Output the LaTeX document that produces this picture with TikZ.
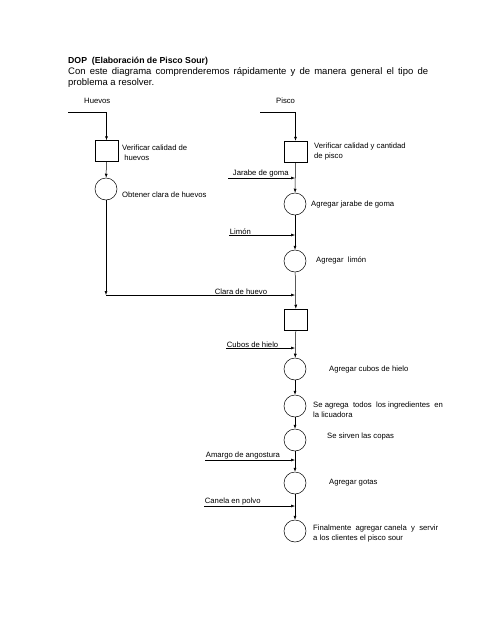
\documentclass[tikz,border=0pt]{standalone}
\usepackage{fontspec}
\setmainfont{Liberation Sans}
\usetikzlibrary{arrows.meta}
\begin{document}
\begin{tikzpicture}[x=1pt,y=-1pt,
  arr/.style={-{Latex[length=4pt,width=3pt]}, line width=0.5pt},
  ln/.style={line width=0.5pt},
  opbox/.style={draw, line width=0.5pt, rectangle, minimum width=23pt, minimum height=21pt, inner sep=0pt},
  opcirc/.style={draw, line width=0.5pt, circle, minimum size=22pt, inner sep=0pt},
  lbl/.style={font=\fontsize{7.7}{10}\selectfont, anchor=west, align=left, inner sep=0pt},
  inlbl/.style={font=\fontsize{7.7}{9}\selectfont, anchor=south west, inner sep=0.7pt}]
\useasboundingbox (0,0) rectangle (495,640);
\fill[white] (0,0) rectangle (495,640);
% header
\node[anchor=west, inner sep=0pt, font=\bfseries\fontsize{8.7}{10}\selectfont] (title) at (68,61) {DOP\ \ (Elaboración de Pisco Sour)};
\node[anchor=north west, inner sep=0pt, text width=360pt, align=justify, font=\fontsize{9.5}{11}\selectfont] (intro) at (68,67.5) {\tolerance=9999 \emergencystretch=30pt Con este diagrama comprenderemos rápidamente y de manera general el tipo de \mbox{problema} a resolver.};
\node[lbl] (lh) at (84,101) {Huevos};
\node[lbl] (lp) at (276,101) {Pisco};
% left column
\coordinate (hin) at (68,112);
\node[opbox] (b1) at (106.5,151) {};
\node[opcirc] (c1) at (106,189) {};
\coordinate (cl) at (106,295);
\node[lbl] at (122,153) {Verificar calidad de\\\ huevos};
\node[lbl] at (122,195) {Obtener clara de huevos};
% right column
\coordinate (pin) at (260,112);
\node[opbox] (b2) at (295.5,151.5) {};
\node[opcirc] (c2) at (295,204) {};
\node[opcirc] (c3) at (295,261) {};
\node[opbox] (b3) at (296,319.5) {};
\node[opcirc] (c4) at (295,369) {};
\node[opcirc] (c5) at (295,406) {};
\node[opcirc] (c6) at (295,440) {};
\node[opcirc] (c7) at (295,483) {};
\node[opcirc] (c8) at (295,531) {};
\node[lbl] at (314,152) {Verificar calidad y cantidad\\de pisco};
\node[lbl] at (311,205) {Agregar jarabe de goma};
\node[lbl] at (316,260) {Agregar\ \ limón};
\node[lbl] at (329,370) {Agregar cubos de hielo};
\node[lbl] at (313,410) {Se agrega\ \ todos\ \ los ingredientes\ \ en\\la licuadora};
\node[lbl] at (327,437) {Se sirven las copas};
\node[lbl] at (329,483) {Agregar gotas};
\node[lbl] at (313,534) {Finalmente\ \ agregar canela\ \ y\ \ servir\\a los clientes el pisco sour};
% inputs
\coordinate (jin) at (228,178);  \coordinate (j1) at (295,178);
\coordinate (lin) at (229,235);  \coordinate (j2) at (295,235);
\coordinate (j3) at (295,295);
\coordinate (cin) at (226,348);  \coordinate (j4) at (295,348);
\coordinate (ain) at (205,460);  \coordinate (j5) at (295,460);
\coordinate (kin) at (204,506);  \coordinate (j6) at (295,506);
\node[inlbl] (tj) at (232,178) {Jarabe de goma};
\node[inlbl] (tl) at (lin) {Limón};
\node[inlbl] (tc) at (214,295) {Clara de huevo};
\node[inlbl] (tcu) at (cin) {Cubos de hielo};
\node[inlbl] (ta) at (ain) {Amargo de angostura};
\node[inlbl] (tk) at (kin) {Canela en polvo};
% connectors left
\draw[arr] (hin) -| (b1.north);
\draw[arr] (b1) -- (c1);
\draw[arr] (c1) -- (cl);
\draw[arr] (cl) -- (j3);
% connectors right
\draw[arr] (pin) -| (b2.north);
\draw[arr] (b2) -- (c2);
\draw[arr] (c2) -- (c3);
\draw[arr] (c3) -- (b3);
\draw[arr] (b3) -- (c4);
\draw[arr] (c4) -- (c5);
\draw[arr] (c5) -- (c6);
\draw[arr] (c6) -- (c7);
\draw[arr] (c7) -- (c8);
\draw[arr] (jin) -- (j1);
\draw[arr] (lin) -- (j2);
\draw[arr] (cin) -- (j4);
\draw[arr] (ain) -- (j5);
\draw[arr] (kin) -- (j6);
\end{tikzpicture}
\end{document}
